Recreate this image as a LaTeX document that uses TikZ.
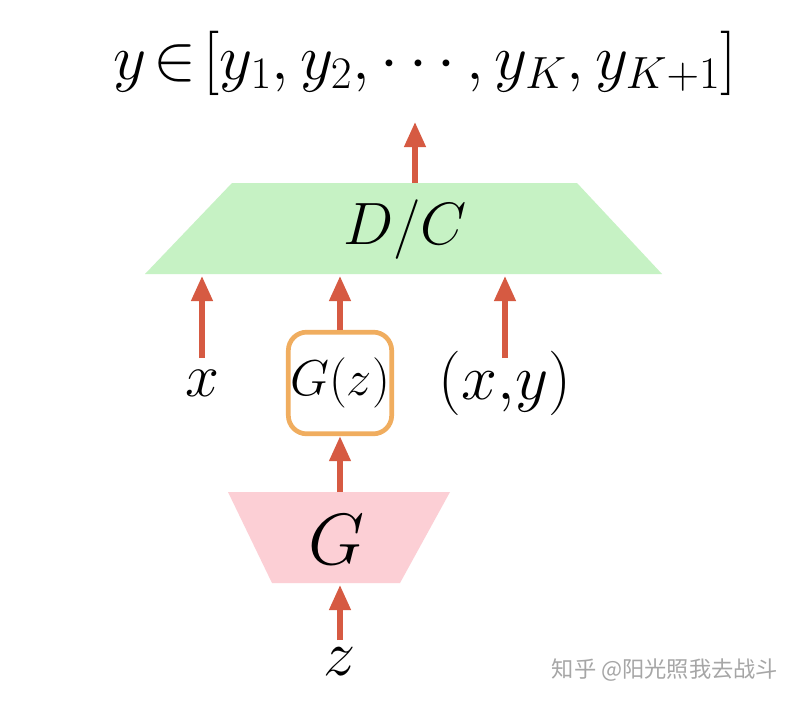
\RequirePackage{fix-cm}
\documentclass[tikz,border=0pt]{standalone}
\usepackage{fontspec}
\newfontfamily\cjk{Noto Sans CJK SC}
\usetikzlibrary{arrows.meta}
\newcommand\fsz[1]{\fontsize{#1}{#1}\selectfont}
\definecolor{arr}{RGB}{214,90,66}
\definecolor{grn}{RGB}{198,242,196}
\definecolor{pnk}{RGB}{252,207,213}
\definecolor{org}{RGB}{240,173,95}
\tikzset{up/.style={draw=arr,line width=4.5pt,-{Triangle[length=0.75cm,width=0.62cm]}},
lbl/.style={inner sep=0pt}}
\begin{document}
\begin{tikzpicture}[x=0.03cm,y=-0.03cm]
\useasboundingbox[fill=white] (0,0) rectangle (807,703);
\fill[grn] (232,183) -- (577,183) -- (662,274) -- (145,274) -- cycle;
\fill[pnk] (228,492) -- (450,492) -- (400,583) -- (272,583) -- cycle;
\node[lbl] (top) at (425,63) {\fsz{55}$y\mathrel{\!\in\!}[y_1,y_2,\cdots,y_K,y_{K+1}]$};
\node[lbl] (dc) at (405,230) {\fsz{51}$D/C$};
\coordinate (dct) at (415,183);
\coordinate (dcb1) at (202,276);
\coordinate (dcb2) at (340,276);
\coordinate (dcb3) at (505,276);
\node[lbl] (x) at (202,383) {\fsz{52}$x$};
\node[draw=org,line width=4pt,rounded corners=0.55cm,minimum width=3.1cm,minimum height=3.05cm,inner sep=0pt] (gz) at (340,383) {\fsz{43}$G(z)$};
\node[lbl] (xy) at (505,383) {\fsz{55}$(x{,}y)$};
\node[lbl] (g) at (337,540) {\fsz{62}$G$};
\coordinate (gt) at (340,492);
\coordinate (gb) at (340,585);
\node[lbl] (z) at (340,662) {\fsz{55}$z$};
\draw[up] (dct) -- (415,122);
\draw[up] (202,358) -- (dcb1);
\draw[up] (gz.north) -- (dcb2);
\draw[up] (505,358) -- (dcb3);
\draw[up] (gt) -- (gz.south);
\draw[up] (340,640) -- (gb);
\node[lbl,text=gray!70] (wm) at (665,670) {\fsz{19}\cjk 知乎 @阳光照我去战斗};
\end{tikzpicture}
\end{document}
